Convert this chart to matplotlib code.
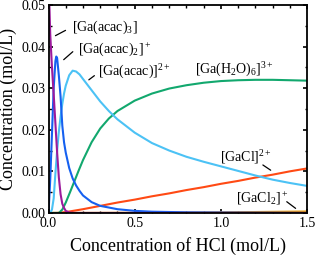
import numpy as np
import matplotlib
matplotlib.use('Agg')
import matplotlib.pyplot as plt
from matplotlib.ticker import MultipleLocator

# [Ga(acac)3]
x_acac3 = [0, 0.005, 0.01, 0.02, 0.03, 0.04, 0.05, 0.06, 0.07, 0.08, 0.09, 0.1, 0.12, 0.15, 1.5]
y_acac3 = [0.055, 0.05, 0.043, 0.035, 0.0285, 0.0215, 0.0145, 0.0085, 0.0045, 0.0022, 0.0012, 0.0005, 0.0001, 0, 0]

# [Ga(acac)2]+
x_acac2 = [0, 0.01, 0.02, 0.03, 0.04, 0.045, 0.05, 0.06, 0.07, 0.08, 0.09, 0.1, 0.12, 0.14,
           0.16, 0.18, 0.2, 0.25, 0.3, 0.4, 0.5, 0.6, 0.8, 1.0, 1.5]
y_acac2 = [0, 0.008, 0.019, 0.030, 0.0365, 0.0376, 0.0372, 0.033, 0.028, 0.021, 0.017, 0.0145,
           0.0108, 0.0083, 0.0066, 0.0053, 0.0042, 0.0026, 0.0017, 0.0009, 0.0005, 0.0003,
           0.00015, 0.0001, 0.0]

# [Ga(acac)]2+
x_acac1 = [0, 0.01, 0.02, 0.03, 0.04, 0.05, 0.06, 0.07, 0.08, 0.09, 0.1, 0.12, 0.14, 0.16,
           0.18, 0.2, 0.25, 0.3, 0.35, 0.4, 0.5, 0.6, 0.7, 0.8, 0.9, 1.0, 1.1, 1.2, 1.3, 1.4, 1.5]
y_acac1 = [0, 0, 0.0008, 0.0035, 0.0095, 0.0150, 0.0195, 0.0232, 0.0262, 0.0287, 0.0306, 0.0331,
           0.0342, 0.0340, 0.0333, 0.0322, 0.0295, 0.0268, 0.0245, 0.0225, 0.0193, 0.0168,
           0.0150, 0.0135, 0.0123, 0.0112, 0.0101, 0.0090, 0.0080, 0.0072, 0.0065]

# [Ga(H2O)6]3+
x_aqua = [0, 0.06, 0.08, 0.1, 0.125, 0.15, 0.175, 0.2, 0.25, 0.3, 0.35, 0.4, 0.5, 0.6, 0.7,
          0.8, 0.9, 1.0, 1.1, 1.2, 1.3, 1.4, 1.5]
y_aqua = [0, 0, 0.0008, 0.0025, 0.0050, 0.0076, 0.0102, 0.0127, 0.0170, 0.0203, 0.0227, 0.0245,
          0.0270, 0.0287, 0.0299, 0.0307, 0.0313, 0.0317, 0.0319, 0.0320, 0.0320, 0.0319, 0.0318]

# [GaCl]2+
x_gacl = [0, 0.05, 0.1, 0.2, 0.3, 0.4, 0.5, 0.6, 0.7, 0.8, 0.9, 1.0, 1.1, 1.2, 1.3, 1.4, 1.5]
y_gacl = [0, 0, 0.0002, 0.0009, 0.0017, 0.0025, 0.0032, 0.0040, 0.0047, 0.0055, 0.0062,
          0.0070, 0.0077, 0.0085, 0.0092, 0.0100, 0.0107]

# [GaCl2]+
x_gacl2 = [0, 0.3, 0.6, 0.9, 1.2, 1.5]
y_gacl2 = [0, 0.00002, 0.00006, 0.00013, 0.00022, 0.00035]

plt.rcParams['font.family'] = 'serif'
plt.rcParams['font.serif'] = ['Liberation Serif']
plt.rcParams['mathtext.fontset'] = 'custom'
plt.rcParams['mathtext.rm'] = 'Liberation Serif'
plt.rcParams['mathtext.it'] = 'Liberation Serif:italic'

fig = plt.figure(figsize=(3.15, 2.6), dpi=100)
ax = fig.add_axes([0.154, 0.181, 0.821, 0.8])

lw = 1.5
ax.plot(x_gacl2, y_gacl2, color='#e89b00', lw=lw)
ax.plot(x_gacl, y_gacl, color='#ff4a14', lw=lw)
ax.plot(x_aqua, y_aqua, color='#12a86e', lw=lw)
ax.plot(x_acac1, y_acac1, color='#4cc2f5', lw=lw)
ax.plot(x_acac2, y_acac2, color='#1560f0', lw=lw)
ax.plot(x_acac3, y_acac3, color='#9c1a9c', lw=lw)

ax.set_xlim(0, 1.5)
ax.set_ylim(0, 0.05)
ax.xaxis.set_major_locator(MultipleLocator(0.5))
ax.xaxis.set_minor_locator(MultipleLocator(0.1))
ax.yaxis.set_major_locator(MultipleLocator(0.01))
ax.yaxis.set_minor_locator(MultipleLocator(0.005))
ax.xaxis.set_major_formatter(plt.FormatStrFormatter('%.1f'))
ax.yaxis.set_major_formatter(plt.FormatStrFormatter('%.2f'))
ax.tick_params(which='both', direction='in', top=True, right=True, labelsize=10)
ax.tick_params(axis='y', pad=2)
ax.tick_params(axis='x', pad=3)
ax.tick_params(which='major', length=3, width=1.2)
ax.tick_params(which='minor', length=1.8, width=1.0)
for s in ax.spines.values():
    s.set_linewidth(1.3)

ax.set_xlabel('Concentration of HCl (mol/L)', fontsize=13, labelpad=5)
ax.set_ylabel('Concentration (mol/L)', fontsize=13, labelpad=3)

# labels and leader lines
fs = 10
ax.text(0.136, 0.0447, r'[Ga(acac)$_3$]', fontsize=fs, va='center')
ax.text(0.171, 0.0394, r'[Ga(acac)$_2$]$^+$', fontsize=fs, va='center')
ax.text(0.287, 0.0340, r'[Ga(acac)]$^{2+}$', fontsize=fs, va='center')
ax.text(0.848, 0.0344, r'[Ga(H$_2$O)$_6$]$^{3+}$', fontsize=fs, va='center')
ax.text(0.993, 0.0135, r'[GaCl]$^{2+}$', fontsize=fs, va='center')
ax.text(1.09, 0.0035, r'[GaCl$_2$]$^+$', fontsize=fs, va='center')

leaders = [((0.026, 0.0423), (0.113, 0.0442)),
           ((0.076, 0.0364), (0.153, 0.0392)),
           ((0.221, 0.0316), (0.279, 0.0334)),
           ((1.230, 0.0119), (1.302, 0.0099)),
           ((1.369, 0.0031), (1.446, 0.0007))]
for a, b in leaders:
    ax.annotate('', xy=b, xytext=a, arrowprops=dict(arrowstyle='-', lw=0.9, color='black'))

fig.savefig('out.png', dpi=100)
